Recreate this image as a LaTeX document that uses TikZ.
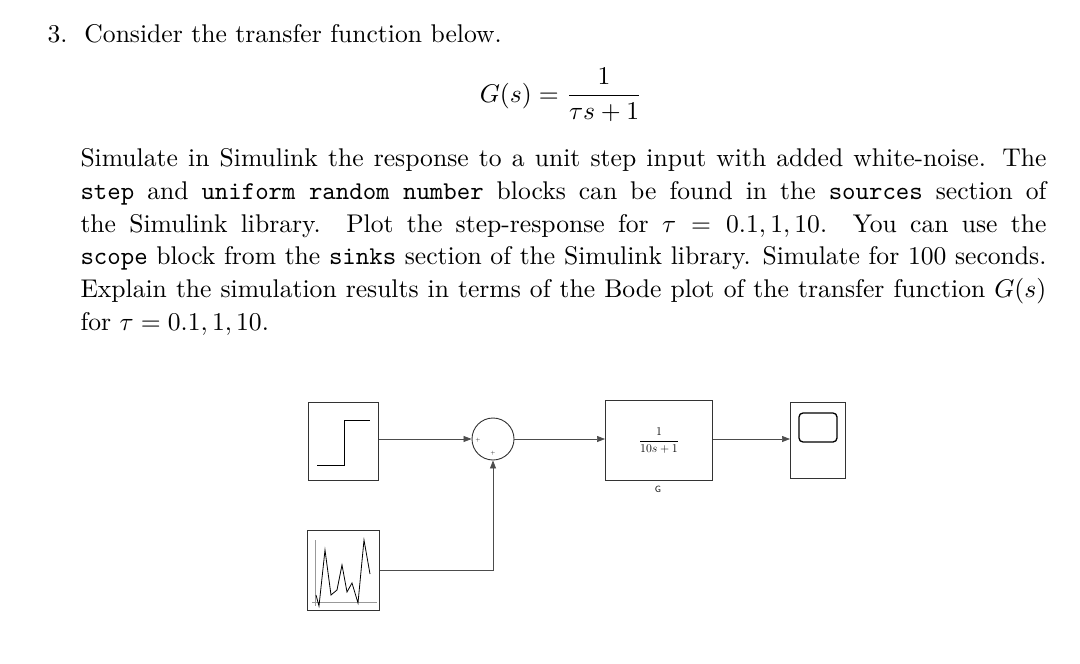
\documentclass[tikz,border=0pt]{standalone}
\usetikzlibrary{arrows.meta}
\begin{document}
\begin{tikzpicture}[x=1pt,y=1pt,
  blk/.style={draw=black!80,line width=0.9pt,fill=white},
  sig/.style={draw=black!70,line width=0.7pt,-{Triangle[length=8pt,width=6pt]}},
  txt/.style={font=\fontsize{10}{12.8}\selectfont,scale=2.56,transform shape}]
\useasboundingbox (0,0) rectangle (1080,-664);
\node[txt,anchor=base west,inner sep=0pt] (hdr) at (47,-42) {3.\ \ Consider the transfer function below.};
\node[txt,anchor=center,inner sep=0pt] (eq) at (561,-95) {$\displaystyle G(s)=\frac{1}{\tau s+1}$};
\node[txt,anchor=north west,inner sep=0pt,text width=377.3pt,align=justify] (par) at (80,-148)
{Simulate in Simulink the response to a unit step input with added white-noise. The\linebreak \texttt{step} and \texttt{uniform random number} blocks can be found in the \texttt{sources} section of\linebreak the Simulink library. Plot the step-response for $\tau=0.1,1,10$. You can use the\linebreak \texttt{scope} block from the \texttt{sinks} section of the Simulink library. Simulate for 100 seconds.\linebreak Explain the simulation results in terms of the Bode plot of the transfer function $G(s)$\linebreak for $\tau=0.1,1,10$.};
% blocks
\node[blk,minimum width=70pt,minimum height=78pt,anchor=north west,inner sep=0pt] (step) at (308,-402) {};
\draw[line width=1pt] (317,-465) -- (344,-465) -- (344,-420) -- (370,-420);
\node[blk,minimum width=72pt,minimum height=80pt,anchor=north west,inner sep=0pt] (noise) at (307,-530) {};
\draw[black!40,line width=0.5pt] (315,-540) -- (315,-606) (312,-602) -- (377,-602);
\draw[line width=0.8pt] (316,-595) -- (319,-606) -- (325,-550) -- (331,-595) -- (337,-590) -- (342,-565) -- (347,-592) -- (352,-583) -- (358,-603) -- (364,-540) -- (370,-574);
\node[blk,circle,minimum size=42pt,inner sep=0pt] (sum) at (493,-439) {};
\node[font=\tiny] at (478,-440) {+};
\node[font=\tiny] at (493,-453) {+};
\node[blk,minimum width=107pt,minimum height=80pt,anchor=north west,inner sep=0pt] (G) at (605,-400) {\fontsize{13}{14}\selectfont$\displaystyle\frac{1}{10s+1}$};
\node[font=\sffamily\fontsize{9}{10}\selectfont] (glab) at (658,-489) {G};
\node[blk,minimum width=55pt,minimum height=76pt,anchor=north west,inner sep=0pt] (scope) at (790,-402) {};
\draw[line width=1.3pt,rounded corners=4pt] (799,-413) rectangle (837,-442);
% connectors
\draw[sig] (step.east|-sum.west) -- (sum.west);
\draw[sig] (noise.east) -| (sum.south);
\draw[sig] (sum.east) -- (G.west|-sum.east);
\draw[sig] (G.east|-sum.east) -- (scope.west|-sum.east);
\end{tikzpicture}
\end{document}
